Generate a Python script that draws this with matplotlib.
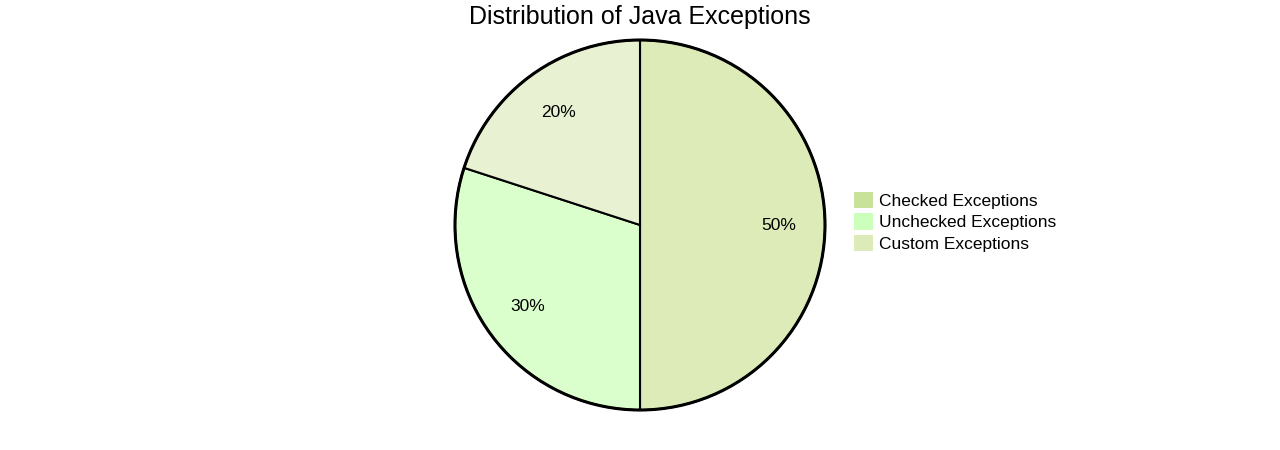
import matplotlib
matplotlib.use("Agg")
import matplotlib.pyplot as plt
from matplotlib.patches import Circle, Patch

labels = ["Checked Exceptions", "Unchecked Exceptions", "Custom Exceptions"]
values = [50, 30, 20]
slice_colors = ["#dcebb7", "#dbffcc", "#e8f2d2"]
legend_colors = ["#c9e29a", "#ccffbb", "#dcebb7"]

plt.rcParams['font.family'] = ['Liberation Sans', 'DejaVu Sans']
fig = plt.figure(figsize=(12.8, 4.5), dpi=100)
ax = fig.add_axes([0, 0, 1, 1])
ax.set_xlim(-640, 640)
ax.set_ylim(-225, 225)
ax.set_aspect('equal')
ax.axis('off')

cx, cy, r = 0, 0, 185
ax.pie(values, colors=slice_colors, startangle=90, counterclock=False,
       radius=r, center=(cx, cy), autopct='%1.0f%%', pctdistance=0.75,
       wedgeprops=dict(edgecolor='black', linewidth=1.5),
       textprops=dict(fontsize=12.5, color='black'), frame=True)
ax.set_xlim(-640, 640)
ax.set_ylim(-225, 225)
ax.axis('off')
ax.add_patch(Circle((cx, cy), r, fill=False, edgecolor='black', linewidth=2.2))

fig.text(0.5, 0.963, "Distribution of Java Exceptions", ha='center', va='center', fontsize=18)

handles = [Patch(facecolor=c, edgecolor='none') for c in legend_colors]
fig.legend(handles, labels, loc='center left', bbox_to_anchor=(0.662, 0.507),
           frameon=False, fontsize=12.5, handlelength=1.1, handleheight=1.1,
           handletextpad=0.3, labelspacing=0.25, borderaxespad=0)

fig.savefig("out.png", dpi=100)
